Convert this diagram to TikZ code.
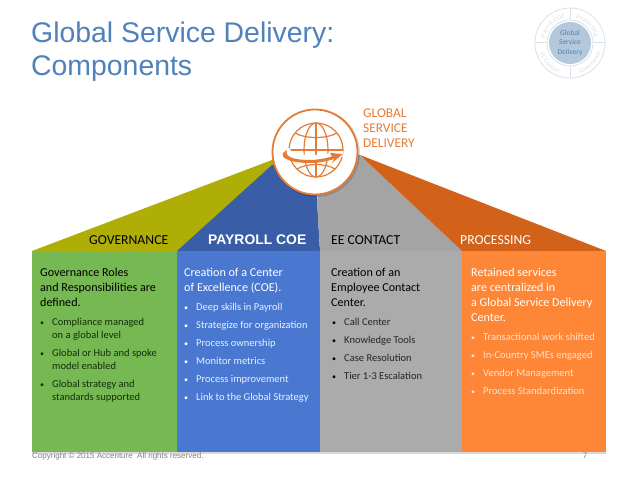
\documentclass[tikz,border=0pt]{standalone}
\usepackage{fontspec}
\setmainfont{Carlito}
\newfontfamily\arialfont{Liberation Sans}
\usetikzlibrary{decorations.text,calc}
\definecolor{titleblue}{HTML}{4F81BD}
\definecolor{greenbox}{HTML}{76B852}
\definecolor{bluebox}{HTML}{4A78D0}
\definecolor{graybox}{HTML}{ABABAB}
\definecolor{orangebox}{HTML}{FD8637}
\definecolor{olive}{HTML}{AEAE06}
\definecolor{royal}{HTML}{3A5DA8}
\definecolor{graytop}{HTML}{A4A4A4}
\definecolor{orangetop}{HTML}{D2611A}
\definecolor{globeor}{HTML}{E57C36}
\definecolor{ringpale}{HTML}{D9E2EA}
\definecolor{ringdisc}{HTML}{B4C8DC}
\definecolor{darkgreentext}{HTML}{14300A}
\newcommand\stk[1]{\vtop{\halign{##\hfil\cr #1\crcr}}}
\tikzset{
  headtext/.style={anchor=base west,inner sep=0pt,font=\fontsize{12.1}{15}\selectfont},
  bandtext/.style={anchor=base west,inner sep=0pt,font=\fontsize{13.7}{15}\selectfont},
  bullettext/.style={anchor=base west,inner sep=0pt,font=\fontsize{10.5}{12.8}\selectfont},
  dotmark/.style={anchor=base,inner sep=0pt,font=\fontsize{8}{10}\selectfont},
  globeline/.style={draw=globeor,line width=1.2pt},
}
\begin{document}
\begin{tikzpicture}[x=1pt,y=-1pt]
\useasboundingbox (0,0) rectangle (638,478);
\fill[white] (0,0) rectangle (638,478);
% title
\node[anchor=base west,inner sep=0pt,text=titleblue,font=\arialfont\fontsize{28.4}{33}\selectfont] (title) at (31,43) {\stk{Global Service Delivery:\cr Components}};
% logo
\coordinate (logoc) at (570,43);
\draw[ringpale,line width=0.8pt] (logoc) circle (35);
\draw[ringpale,line width=0.8pt] (logoc) circle (23);
\foreach \a in {0,90,180,270} \draw[ringpale,line width=1pt] ($(logoc)+(\a:23)$) -- ($(logoc)+(\a:35)$);
\fill[ringdisc] (logoc) circle (21);
\node[align=center,inner sep=0pt,text=titleblue,font=\fontsize{7.5}{9.5}\selectfont] (logotext) at (logoc) {Global\\Service\\Delivery};
\path[postaction={decorate,decoration={text along path,text align=center,text={|\fontsize{6.5}{8}\selectfont\color{ringpale}|Payroll COE}}}] ($(logoc)+(-176:25.5)$) arc[start angle=-176,end angle=-94,radius=25.5];
\path[postaction={decorate,decoration={text along path,text align=center,text={|\fontsize{6.5}{8}\selectfont\color{ringpale}|Processing}}}] ($(logoc)+(-86:25.5)$) arc[start angle=-86,end angle=-4,radius=25.5];
\path[postaction={decorate,decoration={text along path,text align=center,text={|\fontsize{6.5}{8}\selectfont\color{ringpale}|EE Contact}}}] ($(logoc)+(176:32)$) arc[start angle=176,end angle=94,radius=32];
\path[postaction={decorate,decoration={text along path,text align=center,text={|\fontsize{6.5}{8}\selectfont\color{ringpale}|Governance}}}] ($(logoc)+(86:32)$) arc[start angle=86,end angle=4,radius=32];
% roof
\fill[olive] (32,251) -- (272,160) -- (300,160) -- (177,251) -- cycle;
\fill[royal] (177,251) -- (272,165) -- (320,160) -- (317,200) -- (320,251) -- cycle;
\fill[graytop] (320,251) -- (317,200) -- (330,150) -- (360,155) -- (462,251) -- cycle;
\fill[orangetop] (462,251) -- (360,155) -- (606,251) -- cycle;
% boxes
\fill[black!15] (32,451) rectangle (606,454);
\fill[greenbox] (32,251) rectangle (177,452);
\fill[bluebox] (177,251) rectangle (320,452);
\fill[graybox] (320,251) rectangle (462,452);
\fill[orangebox] (462,251) rectangle (606,452);
% circle
\fill[black,opacity=0.15] (316,153) circle (44);
\fill[white,draw=globeor,line width=1.8pt] (315,152) circle (42.5);
% globe
\coordinate (gc) at (316,150);
\draw[globeline] (gc) circle (27);
\draw[globeline] (gc) ellipse (12 and 27);
\draw[globeline] (316,123) -- (316,177);
\draw[globeline] (289,150) -- (343,150);
\draw[globeline] (295,133) .. controls (305,139) and (327,139) .. (337,133);
\draw[globeline] (297,169) .. controls (307,163) and (325,163) .. (335,169);
\fill[white] (284,148) .. controls (276,157) and (300,169) .. (344,156) -- (343,151) .. controls (315,157) and (292,156) .. (289,148) -- cycle;
\fill[globeor] (287,150) .. controls (277,155) and (284,163) .. (310,163) .. controls (320,163) and (328,161) .. (334,159) -- (332,163) -- (343,154) -- (330,153) -- (332,156.5) .. controls (325,158.5) and (317,160) .. (310,160) .. controls (294,160) and (284,157) .. (287,150) -- cycle;
\node[anchor=base west,inner sep=0pt,text=globeor,font=\fontsize{13.4}{15}\selectfont] (gsd) at (363,118) {\stk{GLOBAL\cr SERVICE\cr DELIVERY}};
% band labels
\node[bandtext,text=black] (gov) at (89,245) {GOVERNANCE};
\node[anchor=base west,inner sep=0pt,text=white,font=\arialfont\bfseries\fontsize{13.9}{15}\selectfont] (pay) at (208,245) {PAYROLL COE};
\node[bandtext,text=black] (ee) at (331,245) {EE CONTACT};
\node[bandtext,text=white] (proc) at (460,245) {PROCESSING};
% green column
\node[headtext,text=black] (h1) at (40,277) {\stk{Governance Roles\cr and Responsibilities are\cr defined.}};
\node[bullettext,text=darkgreentext] (g1) at (52,326) {\stk{Compliance managed\cr on a global level}};
\node[bullettext,text=darkgreentext] (g2) at (52,356.5) {\stk{Global or Hub and spoke\cr model enabled}};
\node[bullettext,text=darkgreentext] (g3) at (52,387.5) {\stk{Global strategy and\cr standards supported}};
\foreach \y in {326,356.5,387.5} \node[dotmark,text=darkgreentext] at (42,\y) {•};
% blue column
\node[headtext,text=white] (h2) at (184,277) {\stk{Creation of a Center\cr of Excellence (COE).}};
\foreach \n/\y/\t in {b1/311/Deep skills in Payroll,b2/329/Strategize for organization,b3/347/Process ownership,b4/365/Monitor metrics,b5/383/Process improvement,b6/401/Link to the Global Strategy}{
  \node[bullettext,text=white!88!bluebox] (\n) at (196,\y) {\t};
  \node[dotmark,text=white] at (186,\y) {•};
}
% gray column
\node[headtext,text=black] (h3) at (331,277) {\stk{Creation of an\cr Employee Contact\cr Center.}};
\foreach \n/\y/\t in {c1/326/Call Center,c2/344/Knowledge Tools,c3/362/Case Resolution,c4/380/Tier 1-3 Escalation}{
  \node[bullettext,text=black!85] (\n) at (344,\y) {\t};
  \node[dotmark,text=black] at (334,\y) {•};
}
% orange column
\node[headtext,text=white] (h4) at (471,277) {\stk{Retained services\cr are centralized in\cr a Global Service Delivery\cr Center.}};
\foreach \n/\y/\t in {d1/341/Transactional work shifted,d2/359/In-Country SMEs engaged,d3/377/Vendor Management,d4/395/Process Standardization}{
  \node[bullettext,text=white!75!orangebox] (\n) at (483,\y) {\t};
  \node[dotmark,text=white!75!orangebox] at (473,\y) {•};
}
% footer
\node[anchor=base west,inner sep=0pt,text=black!50,font=\arialfont\fontsize{8}{10}\selectfont] (copy) at (32,459) {Copyright © 2015 Accenture\ \ All rights reserved.};
\node[anchor=base,inner sep=0pt,text=black!50,font=\arialfont\fontsize{8}{10}\selectfont] (pg) at (585,459) {7};
\end{tikzpicture}
\end{document}
